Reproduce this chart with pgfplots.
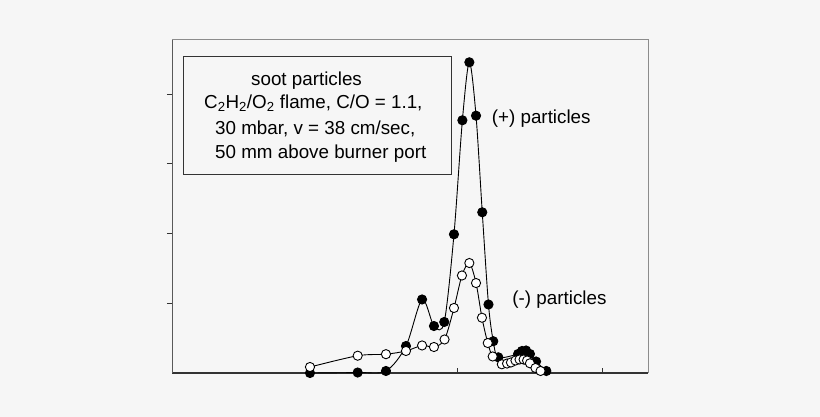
\documentclass[border=0pt]{standalone}
\usepackage{pgfplots}
\pgfplotsset{compat=1.18}
\usepackage{fontspec}
\setmainfont{Liberation Sans}
\usetikzlibrary{backgrounds}
\definecolor{bgc}{RGB}{246,246,246}
\begin{document}
\begin{tikzpicture}
\begin{axis}[
 width=476bp, height=333bp, scale only axis,
 xmin=0.0345, xmax=3.317, ymin=0, ymax=4.778,
 axis lines=left, axis line style={-},
 x axis line style={line width=2bp, color=black!80},
 y axis line style={line width=1bp, color=black!65},
 xtick={1,2,3}, ytick={1,2,3,4},
 xticklabels={}, yticklabels={},
 tick align=inside, major tick length=5bp,
 tick style={black!80, line width=1bp},
 every major y tick/.append style={xshift=-5bp},
 clip=false,
 font=\fontsize{18.8bp}{22bp}\selectfont,
]
\coordinate (bl) at (rel axis cs:0,0);
\coordinate (tr) at (rel axis cs:1,1);
\draw[black!45, line width=1bp] (rel axis cs:0,1) -- (rel axis cs:1,1) -- (rel axis cs:1,0);
% (+) particles
\addplot[black, line width=0.9bp, smooth, tension=0.5, mark=*, mark size=4.6bp, mark options={fill=black, solid}] coordinates {
(0.986,0) (1.315,0.007) (1.510,0.029) (1.648,0.387) (1.759,1.055) (1.841,0.674) (1.912,0.732) (1.979,1.990) (2.037,3.626) (2.085,4.458) (2.131,3.692) (2.174,2.306) (2.217,0.983) (2.250,0.456) (2.285,0.225) (2.421,0.273) (2.448,0.316) (2.476,0.323) (2.503,0.273) (2.545,0.165) (2.616,0.029)
};
% (-) particles
\addplot[black, line width=0.9bp, smooth, tension=0.5, mark=*, mark size=4.6bp, mark options={fill=white, solid}] coordinates {
(0.986,0.086) (1.315,0.248) (1.510,0.270) (1.648,0.316) (1.759,0.395) (1.841,0.373) (1.914,0.481) (1.979,0.933) (2.034,1.399) (2.085,1.578) (2.131,1.291) (2.172,0.793) (2.212,0.430) (2.246,0.237) (2.309,0.125) (2.345,0.136) (2.372,0.151) (2.403,0.179) (2.431,0.194) (2.459,0.194) (2.483,0.179) (2.503,0.139) (2.541,0.072) (2.576,0.029)
};
\draw[black!80, line width=1bp] (axis cs:0.117,4.538) rectangle (axis cs:1.959,2.841);
\node[anchor=west, inner sep=0] at (axis cs:0.579,4.19) {soot particles};
\node[anchor=west, inner sep=0] at (axis cs:0.255,3.874) {C\textsubscript{2}H\textsubscript{2}/O\textsubscript{2} flame, C/O = 1.1,};
\node[anchor=west, inner sep=0] at (axis cs:0.331,3.501) {30 mbar, v = 38 cm/sec,};
\node[anchor=west, inner sep=0] at (axis cs:0.331,3.15) {50 mm above burner port};
\node[anchor=west, inner sep=0] at (axis cs:2.239,3.644) {(+) particles};
\node[anchor=west, inner sep=0] at (axis cs:2.381,1.057) {(-) particles};
\end{axis}
\begin{scope}[on background layer]
\fill[bgc] ([xshift=-172bp,yshift=-44bp]bl) rectangle ([xshift=172bp,yshift=40bp]tr);
\end{scope}
\end{tikzpicture}
\end{document}
